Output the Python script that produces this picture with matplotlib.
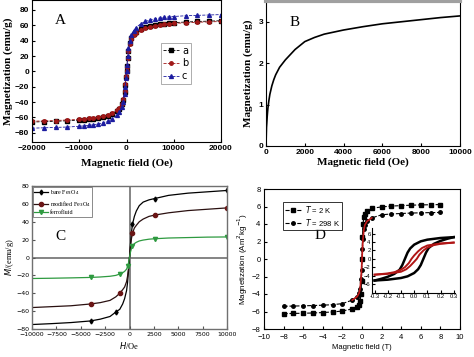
import matplotlib
matplotlib.use("Agg")
import matplotlib.pyplot as plt

W, H = 474, 357

# ---- panel A: three hysteresis curves (emu/g vs Oe)
field_a = [-20000, -17500, -15000, -12500, -10000, -9000, -8000, -7000, -6000, -5000,
           -4000, -3000, -2000, -1500, -1000, -700, -400, -250, -100, 0,
           100, 250, 400, 700, 1000, 1500, 2000, 3000, 4000, 5000,
           6000, 7000, 8000, 9000, 10000, 12500, 15000, 17500, 20000]
mag_a = [-66, -65.5, -65, -64.3, -63.5, -63, -62.3, -61.5, -60.5, -59,
         -57.5, -55, -51.5, -48.5, -43, -37, -27, -18, -7, 0,
         7, 18, 27, 37, 43, 48.5, 51.5, 55, 57.5, 59,
         60.5, 61.5, 62.3, 63, 63.5, 64.3, 65, 65.5, 66]
mag_b = [-65, -64.5, -64, -63.3, -62.5, -62, -61.3, -60.5, -59.5, -58,
         -56.5, -54, -50.5, -47.5, -42, -36, -26, -17, -6, 0,
         6, 17, 26, 36, 42, 47.5, 50.5, 54, 56.5, 58,
         59.5, 60.5, 61.3, 62, 62.5, 63.3, 64, 64.5, 65]
mag_c = [-74, -73.5, -73, -72.5, -71.5, -71, -70.5, -69.5, -68.5, -67,
         -65, -62, -57, -53, -47, -40, -30, -20, -8, 0,
         8, 20, 30, 40, 47, 53, 57, 62, 65, 67,
         68.5, 69.5, 70.5, 71, 71.5, 72.5, 73, 73.5, 74]

# ---- panel B: magnetization curve
field_b = [0, 10, 25, 40, 60, 80, 100, 150, 200, 300, 400, 500, 700, 1000, 1500,
           2000, 2500, 3000, 4000, 5000, 6000, 7000, 8000, 9000, 10000]
mag_b_curve = [0, 0.2, 0.45, 0.55, 0.7, 0.82, 0.92, 1.1, 1.25, 1.45, 1.6, 1.72, 1.9,
               2.08, 2.33, 2.52, 2.62, 2.7, 2.8, 2.88, 2.95, 3.0, 3.05, 3.1, 3.14]

# ---- panel C: bare / modified Fe3O4 and ferrofluid
field_c = [-10000, -8000, -6000, -4000, -3000, -2000, -1400, -1000, -700, -500,
           -300, -200, -100, 0, 100, 200, 300, 500, 700, 1000,
           1400, 2000, 2600, 4000, 6000, 8000, 10000]
bare = [-75, -74, -72.8, -71, -69, -66, -61, -58, -52, -46,
        -37, -28, -15, 0, 15, 28, 37, 46, 52, 58,
        62, 64.5, 66, 69.5, 72, 73.5, 75]
modified = [-56, -55, -54, -52, -50.5, -48, -44, -40, -36, -33,
            -27, -21, -12, 0, 12, 21, 27, 33, 36, 40,
            43, 46, 47.5, 50, 52.5, 54, 55.5]
ferro = [-23.5, -23.2, -22.8, -22.3, -21.8, -21, -20, -18.5, -17, -15.5,
         -13, -10, -6, 0, 6, 10, 13, 15.5, 17, 18.5,
         19.5, 20.5, 21, 21.8, 22.3, 22.8, 23]
labels_c = ["bare Fe$_3$O$_4$", "modified Fe$_3$O$_4$", "ferrofluid"]

# ---- panel D: 2 K and 298 K, main and inset loop
field_d = [-8, -7, -6, -5, -4, -3, -2, -1, -0.5, -0.3, -0.2, -0.1, -0.05, 0,
           0.05, 0.1, 0.2, 0.3, 0.5, 1, 2, 3, 4, 5, 6, 7, 8]
mag_2k = [-6.25, -6.22, -6.2, -6.17, -6.12, -6.05, -5.95, -5.7, -5.45, -5.2, -4.8, -4.0, -2.5, 0,
          2.5, 4.0, 4.8, 5.2, 5.5, 5.8, 5.95, 6.05, 6.1, 6.15, 6.18, 6.2, 6.22]
mag_298k = [-5.4, -5.38, -5.35, -5.32, -5.28, -5.22, -5.1, -4.7, -4.3, -3.9, -3.4, -2.3, -1.2, 0,
            1.2, 2.3, 3.4, 3.9, 4.3, 4.7, 5.05, 5.15, 5.2, 5.25, 5.28, 5.3, 5.32]
labels_d = ["$T$ = 2 K", "$T$ = 298 K"]

loop_h_down = [0.3, 0.25, 0.2, 0.15, 0.1, 0.05, 0.0, -0.03, -0.05, -0.07, -0.09, -0.11, -0.15, -0.2, -0.25, -0.3]
loop_2k_down = [5.2, 5.1, 5.0, 4.8, 4.6, 4.2, 3.4, 2.5, 1.5, 0.0, -1.5, -2.6, -3.6, -4.3, -4.8, -5.2]
loop_h_up = [-0.3, -0.25, -0.2, -0.15, -0.1, -0.05, 0.0, 0.03, 0.05, 0.07, 0.09, 0.11, 0.15, 0.2, 0.25, 0.3]
loop_2k_up = [-5.2, -5.1, -5.0, -4.8, -4.6, -4.2, -3.4, -2.5, -1.5, 0.0, 1.5, 2.6, 3.6, 4.3, 4.8, 5.2]
loop_h3_down = [0.3, 0.2, 0.1, 0.06, 0.03, 0.0, -0.02, -0.04, -0.07, -0.1, -0.15, -0.2, -0.3]
loop_298k_down = [3.9, 3.7, 3.2, 2.6, 1.8, 0.8, 0.0, -1.0, -2.0, -2.6, -3.2, -3.5, -3.8]
loop_h3_up = [-0.3, -0.2, -0.1, -0.06, -0.03, 0.0, 0.02, 0.04, 0.07, 0.1, 0.15, 0.2, 0.3]
loop_298k_up = [-3.8, -3.6, -3.1, -2.5, -1.7, -0.7, 0.0, 1.0, 2.0, 2.7, 3.3, 3.6, 3.9]


def px_axes(fig, left, top, right, bottom):
    return fig.add_axes([left / W, 1 - bottom / H, (right - left) / W, (bottom - top) / H])


serif = "Liberation Serif"
sans = "Liberation Sans"

fig = plt.figure(figsize=(W / 100, H / 100), dpi=100)

# panel A
ax = px_axes(fig, 32, 0, 221, 142)
ax.plot(field_a, mag_a, ls="--", lw=0.6, color="black", marker="s", ms=2.5, label="a")
ax.plot(field_a, mag_b, ls="--", lw=0.6, color="#a01818", marker="o", ms=2.5, label="b")
ax.plot(field_a, mag_c, ls="--", lw=0.6, color="#1c1ca0", marker="^", ms=2.8, label="c")
ax.set_xlim(-20000, 20000)
ax.set_ylim(-92, 93)
ax.set_xticks([-20000, -10000, 0, 10000, 20000])
ax.set_yticks(range(-80, 81, 20))
ax.tick_params(direction="in", length=2.5, labelsize=6, pad=2)
for t in ax.get_xticklabels() + ax.get_yticklabels():
    t.set_fontweight("bold")
    t.set_family(sans)
ax.set_xlabel("Magnetic field (Oe)", family=serif, fontweight="bold", fontsize=8, labelpad=5)
ax.set_ylabel("Magnetization (emu/g)", family=serif, fontweight="bold", fontsize=8, labelpad=1)
ax.text(0.12, 0.83, "A", transform=ax.transAxes, family=serif, fontsize=11)
leg = ax.legend(loc="upper left", bbox_to_anchor=(0.68, 0.7), fontsize=7, frameon=True,
                fancybox=False, edgecolor="#888888", handlelength=1.6, borderpad=0.3,
                labelspacing=0.3, handletextpad=0.3, borderaxespad=0)
leg.get_frame().set_linewidth(0.6)

# panel B
ax = px_axes(fig, 266, 1, 460, 146)
ax.plot(field_b, mag_b_curve, color="black", lw=1.2)
ax.set_xlim(0, 10000)
ax.set_ylim(0, 3.5)
ax.set_xticks(range(0, 10001, 2000))
ax.set_yticks([0, 1, 2, 3])
ax.tick_params(direction="in", length=2.5, labelsize=6, pad=2)
for t in ax.get_xticklabels() + ax.get_yticklabels():
    t.set_fontweight("bold")
    t.set_family(sans)
ax.spines["top"].set_color("#a0a0a0")
ax.spines["top"].set_linewidth(3)
ax.set_xlabel("Magnetic field (Oe)", family=serif, fontweight="bold", fontsize=8, labelpad=1)
ax.set_ylabel("Magnetization (emu/g)", family=serif, fontweight="bold", fontsize=8, labelpad=4)
ax.text(0.12, 0.83, "B", transform=ax.transAxes, family=serif, fontsize=11)

# panel C
ax = px_axes(fig, 32, 186, 227, 329)
ax.axhline(0, color="#707070", lw=1.2, zorder=1)
ax.axvline(0, color="#707070", lw=1.2, zorder=1)
ax.plot(field_c, bare, color="black", lw=0.9, marker="d", ms=2.5,
        markevery=[3, 6, 16, 22, 26], label=labels_c[0])
ax.plot(field_c, modified, color="#2a1010", lw=0.9, marker="o", ms=3, mfc="#6a1515", mec="#6a1515",
        markevery=[3, 7, 16, 22, 26], label=labels_c[1])
ax.plot(field_c, ferro, color="#2e9a40", lw=0.9, marker="v", ms=3,
        markevery=[3, 7, 11, 16, 22, 26], label=labels_c[2])
ax.set_xlim(-10000, 10000)
ax.set_ylim(-80, 80)
ax.set_xticks(range(-10000, 10001, 2500))
ax.set_yticks(range(-80, 81, 20))
ax.tick_params(direction="in", length=2, labelsize=4.5, pad=2, color="#555555")
for s in ax.spines.values():
    s.set_color("#707070")
    s.set_linewidth(1)
ax.set_xlabel("$H$/Oe", family=serif, fontsize=6, labelpad=2)
ax.set_ylabel("$M$/(emu/g)", family=serif, fontsize=6, labelpad=0)
ax.text(0.12, 0.62, "C", transform=ax.transAxes, family=serif, fontsize=11)
leg = ax.legend(loc="upper left", frameon=True, fancybox=False, edgecolor="#555555",
                handlelength=2.2, borderpad=0.3, labelspacing=0.25, handletextpad=0.4,
                borderaxespad=0.1, prop={"family": serif, "size": 4.3})
leg.get_frame().set_linewidth(0.6)

# panel D
ax = px_axes(fig, 264, 189, 460, 329)
ax.plot(field_d, mag_2k, ls="--", lw=0.8, color="black", marker="s", ms=2.5, label=labels_d[0])
ax.plot(field_d, mag_298k, ls="--", lw=0.8, color="black", marker="o", ms=2.5, label=labels_d[1])
ax.plot(field_d[7:20], mag_298k[7:20], color="#c01818", lw=1.2)
ax.set_xlim(-10, 10)
ax.set_ylim(-8, 8)
ax.set_xticks(range(-10, 11, 2))
ax.set_yticks(range(-8, 9, 2))
ax.tick_params(direction="in", length=2.5, labelsize=5.5)
ax.tick_params(axis="x", pad=3.5)
ax.tick_params(axis="y", pad=2.5)
for t in ax.get_xticklabels() + ax.get_yticklabels():
    t.set_family(sans)
ax.set_xlabel("Magnetic field (T)", family=sans, fontsize=5.5, labelpad=2)
ax.set_ylabel("Magnetization (Am$^2$kg$^{-1}$)", family=sans, fontsize=5.8, labelpad=1)
ax.text(0.26, 0.64, "D", transform=ax.transAxes, family=serif, fontsize=11)
leg = ax.legend(loc="upper left", bbox_to_anchor=(0.095, 0.91), frameon=True,
                fancybox=False, edgecolor="black", handlelength=2.2, borderpad=0.3,
                labelspacing=0.25, handletextpad=0.4, borderaxespad=0,
                prop={"family": sans, "size": 5.5})
leg.get_frame().set_linewidth(0.7)

ins = px_axes(fig, 372, 228, 455, 293)
ins.plot(loop_h_down, loop_2k_down, color="black", lw=1.8)
ins.plot(loop_h_up, loop_2k_up, color="black", lw=1.8)
ins.plot(loop_h3_down, loop_298k_down, color="#b01515", lw=1.4)
ins.plot(loop_h3_up, loop_298k_up, color="#b01515", lw=1.4)
ins.set_xlim(-0.32, 0.31)
ins.set_ylim(-8.2, 7.4)
ins.set_xticks([-0.3, -0.2, -0.1, 0.0, 0.1, 0.2, 0.3])
ins.set_xticklabels(["-0.3", "-0.2", "-0.1", "0.0", "0.1", "0.2", "0.3"])
ins.set_yticks(range(-6, 7, 2))
ins.tick_params(direction="in", length=2, labelsize=4.2, pad=1)
for t in ins.get_xticklabels() + ins.get_yticklabels():
    t.set_family(sans)
ins.spines["top"].set_visible(False)
ins.spines["right"].set_visible(False)

fig.savefig("out.png", dpi=100)
